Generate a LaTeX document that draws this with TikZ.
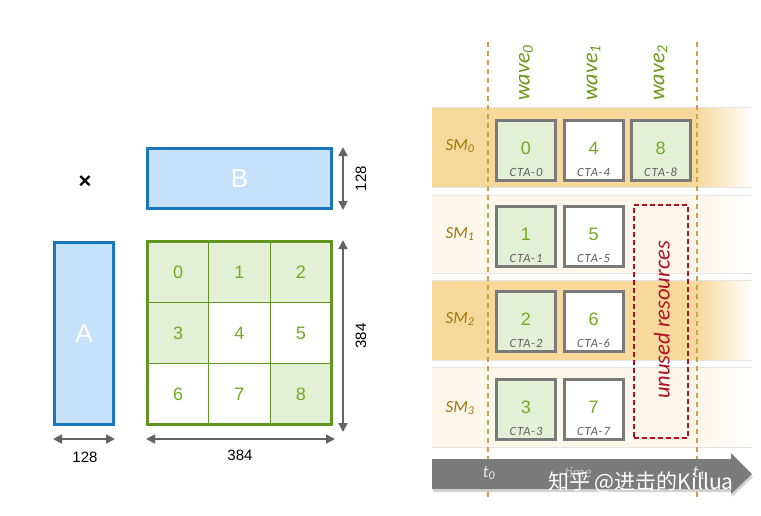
\documentclass[tikz,border=0pt]{standalone}
\usepackage{fontspec}
\setmainfont{Liberation Sans}
\newfontfamily\carl{Carlito}
\newfontfamily\carlsp[LetterSpace=8]{Carlito}
\newfontfamily\cjkf{Noto Sans CJK SC}
\usetikzlibrary{arrows.meta,shadows}
\definecolor{bluebd}{RGB}{26,117,188}
\definecolor{bluefill}{RGB}{197,226,250}
\definecolor{greenbd}{RGB}{96,150,30}
\definecolor{greenfill}{RGB}{228,240,214}
\definecolor{greentxt}{RGB}{112,172,36}
\definecolor{wavegreen}{RGB}{104,156,24}
\definecolor{dimgray}{RGB}{100,100,100}
\definecolor{smgold}{RGB}{160,120,10}
\definecolor{rowdark}{RGB}{247,217,155}
\definecolor{rowlight}{RGB}{253,246,234}
\definecolor{vlinec}{RGB}{200,162,72}
\definecolor{ctagray}{RGB}{122,122,122}
\definecolor{ctatxt}{RGB}{95,95,95}
\definecolor{unusedred}{RGB}{176,16,32}
\definecolor{arrowgray}{RGB}{123,123,123}
\tikzset{
  dimarr/.style={draw=dimgray, line width=1.7pt, {Triangle[length=9pt,width=9pt]}-{Triangle[length=9pt,width=9pt]}},
  dimlbl/.style={font=\fontsize{15}{15}\selectfont, text=black, inner sep=0pt},
  matbox/.style={draw=bluebd, fill=bluefill, line width=3pt, inner sep=0pt, font=\fontsize{26}{26}\selectfont, text=white},
  cell/.style={draw=greenbd, line width=0.8pt, minimum width=61.33pt, minimum height=61pt, inner sep=0pt, font=\fontsize{18}{18}\selectfont, text=greentxt},
  ctabox/.style={draw=ctagray, line width=3pt, minimum width=59pt, minimum height=60pt, inner sep=0pt},
  ctanum/.style={font=\fontsize{18}{18}\selectfont, text=greentxt, inner sep=0pt},
  ctalbl/.style={font=\carlsp\itshape\fontsize{12.5}{12.5}\selectfont, text=ctatxt, inner sep=0pt},
  smlbl/.style={font=\carl\itshape\fontsize{17}{17}\selectfont, text=smgold, inner sep=0pt},
  wavelbl/.style={font=\carl\itshape\fontsize{22}{22}\selectfont, text=wavegreen, inner sep=0pt, rotate=90},
  vline/.style={draw=vlinec, line width=1.6pt, dash pattern=on 5pt off 4pt},
}
\begin{document}
\begin{tikzpicture}[x=1pt,y=-1pt]
\useasboundingbox (0,0) rectangle (761,515);
\fill[white] (0,0) rectangle (761,515);

% ---------- left: matrices ----------
\node[font=\bfseries\fontsize{22}{22}\selectfont, inner sep=0pt] (times) at (85,182) {×};
\node[matbox, minimum width=184pt, minimum height=60pt] (B) at (239.5,178.5) {B};
\node[matbox, minimum width=59pt, minimum height=182pt] (A) at (84,333.5) {A};

\foreach \n/\c/\r/\f in {0/0/0/greenfill,1/1/0/greenfill,2/2/0/greenfill,
                         3/0/1/greenfill,4/1/1/white,5/2/1/white,
                         6/0/2/white,7/1/2/white,8/2/2/greenfill}{
  \node[cell, fill=\f] (c\n) at ({178.17+61.33*\c},{272+61*\r}) {\n};
}
\node[draw=greenbd, line width=3.5pt, minimum width=184pt, minimum height=183pt, inner sep=0pt] (C) at (239.5,333) {};

% dimension arrows
\coordinate (Bdt) at (343,147);
\coordinate (Bdb) at (343,210);
\draw[dimarr] (Bdt) -- (Bdb);
\node[dimlbl, rotate=90] (Bdl) at (361,178.5) {128};

\coordinate (Cdt) at (343,240);
\coordinate (Cdb) at (343,432);
\draw[dimarr] (Cdt) -- (Cdb);
\node[dimlbl, rotate=90] (Cdl) at (361,336) {384};

\coordinate (Adl) at (53,439);
\coordinate (Adr) at (115,439);
\draw[dimarr] (Adl) -- (Adr);
\node[dimlbl] (Adlb) at (85,457) {128};

\coordinate (Cbl) at (146,439);
\coordinate (Cbr) at (335,439);
\draw[dimarr] (Cbl) -- (Cbr);
\node[dimlbl] (Cblb) at (240,455) {384};

% ---------- right: SM timeline ----------
\foreach \t/\b/\col in {107/187/rowdark, 195/273/rowlight, 280/360/rowdark, 367/447/rowlight}{
  \fill[\col] (432,\t) rectangle (697,\b);
  \shade[left color=\col, right color=white] (697,\t) rectangle (752,\b);
  \draw[black!10, line width=0.6pt] (432,\t) -- (752,\t);
  \draw[black!10, line width=0.6pt] (432,\b) -- (752,\b);
}

\node[smlbl] (sm0) at (460,146) {SM\textsubscript{0}};
\node[smlbl] (sm1) at (460,234) {SM\textsubscript{1}};
\node[smlbl] (sm2) at (460,319) {SM\textsubscript{2}};
\node[smlbl] (sm3) at (460,408) {SM\textsubscript{3}};

\node[wavelbl] (w0) at (526,73) {wave\textsubscript{0}};
\node[wavelbl] (w1) at (593.5,73) {wave\textsubscript{1}};
\node[wavelbl] (w2) at (660.5,73) {wave\textsubscript{2}};

\coordinate (t0top) at (488,42);
\coordinate (t0bot) at (488,497);
\coordinate (t1top) at (697,42);
\coordinate (t1bot) at (697,497);
\draw[vline] (t0top) -- (t0bot);
\draw[vline] (t1top) -- (t1bot);

\foreach \n/\x/\y/\f in {0/526/150.5/greenfill, 4/593.5/150.5/white, 8/660.5/150.5/greenfill,
                         1/526/236/greenfill, 5/593.5/236/white,
                         2/526/321/greenfill, 6/593.5/321/white,
                         3/526/409/greenfill, 7/593.5/409/white}{
  \node[ctabox, fill=\f] (cta\n) at (\x,\y) {};
  \node[ctanum] (ctanum\n) at (\x,\y-2) {\n};
  \node[ctalbl] (ctalbl\n) at (\x,\y+22) {CTA-\n};
}

\node[draw=unusedred, line width=2.2pt, dash pattern=on 5pt off 3pt, minimum width=54pt, minimum height=233pt, inner sep=0pt] (unused) at (661,321.5) {};
\node[font=\carl\itshape\fontsize{22.5}{22.5}\selectfont, text=unusedred, rotate=90, inner sep=0pt] (unusedlbl) at (662,320) {unused resources};

% time arrow
\path[fill=arrowgray, drop shadow={shadow xshift=1pt, shadow yshift=-3pt, opacity=0.35}]
  (432,459) -- (731,459) -- (731,453) -- (752,474) -- (731,494) -- (731,489) -- (432,489) -- cycle;
\node[font=\carl\itshape\fontsize{17}{17}\selectfont, text=black!8, inner sep=0pt] (t0) at (489,473) {t\textsubscript{0}};
\node[font=\carl\itshape\fontsize{17}{17}\selectfont, text=black!8, inner sep=0pt] (t1) at (699,473) {t\textsubscript{1}};
\node[font=\carl\itshape\fontsize{15}{15}\selectfont, text=black!25, inner sep=0pt] (time) at (578,472) {time};
\node[font=\cjkf\fontsize{21}{21}\selectfont, text=white, inner sep=0pt] (wm) at (641,482) {知乎 @进击的Killua};
\end{tikzpicture}
\end{document}
